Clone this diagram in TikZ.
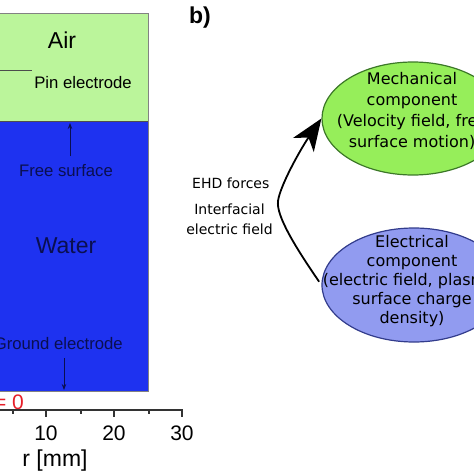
\documentclass[tikz,border=0pt]{standalone}
\usepackage{fontspec}
\setmainfont{Liberation Sans}
\newfontfamily\dvs{DejaVu Sans}
\usetikzlibrary{arrows.meta,shapes.geometric}
\definecolor{airgreen}{RGB}{187,245,155}
\definecolor{water}{RGB}{30,50,240}
\definecolor{mechfill}{RGB}{150,238,90}
\definecolor{mechdraw}{RGB}{60,120,40}
\definecolor{elecfill}{RGB}{145,155,240}
\definecolor{elecdraw}{RGB}{50,60,140}
\definecolor{navy}{RGB}{10,15,80}
\definecolor{zred}{RGB}{230,30,40}
\definecolor{rimgray}{RGB}{130,130,130}
\begin{document}
\begin{tikzpicture}[x=1pt,y=-1pt,
  region/.style={draw=rimgray,line width=0.8},
  lefttxt/.style={font=\fontsize{16.7}{19}\selectfont,inner sep=0},
  bigtxt/.style={font=\fontsize{23}{26}\selectfont,inner sep=0},
  ticklab/.style={font=\fontsize{21}{24}\selectfont,inner sep=0},
  smallarrow/.style={draw=navy,line width=0.9,-{Stealth[length=6,width=4.5]}},
  comp/.style={ellipse,line width=1.2,inner sep=0},
  comptxt/.style={font=\dvs\fontsize{16}{20.7}\selectfont,align=center,inner sep=0},
  sidetxt/.style={font=\dvs\fontsize{14}{20}\selectfont,align=center,inner sep=0}]
\useasboundingbox (0,0) rectangle (474,474);
\clip (0,0) rectangle (474,474);
% left panel
\fill[airgreen] (-5,13) rectangle (148,121);
\fill[water] (-5,121) rectangle (148,391);
\draw[region] (-5,13) rectangle (148,391);
\draw[rimgray!60!black,line width=0.6] (-5,121) -- (148,121);
\coordinate (pinA) at (0,70);
\coordinate (pinB) at (32,70);
\draw[black!70,line width=0.8] (pinA) -- (pinB);
\node[bigtxt] (air) at (62,40) {Air};
\node[lefttxt] (pin) at (83,83) {Pin electrode};
\node[lefttxt,text=navy] (free) at (66,171) {Free surface};
\node[bigtxt,text=navy] (waterlab) at (66,246) {Water};
\node[lefttxt,text=navy,anchor=east] (ground) at (123,344) {Ground electrode};
\coordinate (fsA) at (70,156);
\coordinate (fsB) at (70,123);
\draw[smallarrow] (fsA) -- (fsB);
\coordinate (geA) at (64,358);
\coordinate (geB) at (64,390);
\draw[smallarrow] (geA) -- (geB);
\node[font=\fontsize{21}{24}\selectfont,text=zred,anchor=east,inner sep=0] (zlab) at (24,402) {= 0};
% axis
\coordinate (axA) at (-5,410);
\coordinate (axB) at (183,410);
\draw[black!80,line width=1.2] (axA) -- (axB);
\foreach \x in {46,114,182} \draw[black!80,line width=1.2] (\x,410) -- (\x,417);
\foreach \x in {13,81,149} \draw[black!80,line width=1.2] (\x,410) -- (\x,414);
\node[ticklab] (t10) at (46,433) {10};
\node[ticklab] (t20) at (114,433) {20};
\node[ticklab] (t30) at (182,433) {30};
\node[bigtxt] (rlab) at (55,461) {r [mm]};
% right panel
\node[font=\bfseries\fontsize{23}{26}\selectfont,inner sep=0] (blab) at (200,18) {b)};
\node[comp,draw=mechdraw,fill=mechfill,minimum width=182,minimum height=113] (mech) at (413,118.5) {};
\node[comp,draw=elecdraw,fill=elecfill,minimum width=184,minimum height=114] (elec) at (414,285) {};
\node[comptxt] (mechtxt) at (412,111) {Mechanical\\component\\(Velocity field, free\\surface motion)};
\node[comptxt,font=\dvs\fontsize{16}{19.2}\selectfont] (electxt) at (412,281) {Electrical\\component\\(electric field, plasma,\\surface charge\\density)};
\node[sidetxt,anchor=west] (ehd) at (192,183) {EHD forces};
\node[sidetxt] (inter) at (229.5,219) {Interfacial\\electric field};
\draw[line width=1.8,-{Stealth[length=32,width=25,inset=9]},shorten <=4]
  (elec.west) .. controls (296,248) and (276,216) .. (278,201)
  .. controls (280,186) and (300,150) .. (mech.west);
\end{tikzpicture}
\end{document}
